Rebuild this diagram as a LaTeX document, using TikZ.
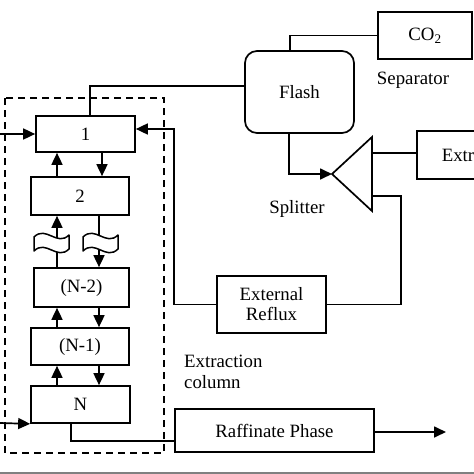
\documentclass[tikz,border=0pt]{standalone}
\usepackage{fontspec}
\setmainfont{Liberation Serif}
\usetikzlibrary{arrows.meta,calc}
\newcommand\wavyflag[2]{\filldraw[fill=white,line width=1.5pt,line join=round] (#1,#2) .. controls +(12,-12) and +(-12,12) .. ++(35,-2) -- ++(0,14) .. controls +(-12,12) and +(12,-12) .. ++(-35,2) -- cycle;}
\begin{document}
\begin{tikzpicture}[x=1pt,y=-1pt,
  box/.style={draw, line width=1.7pt, inner sep=0pt, font=\fontsize{18.8}{21}\selectfont},
  flow/.style={line width=1.7pt},
  arr/.style={flow, -{Triangle[length=12pt,width=11pt]}},
  lbl/.style={font=\fontsize{18.8}{21}\selectfont, inner sep=0pt}]
\useasboundingbox (0,0) rectangle (474,474);
\clip (0,0) rectangle (474,474);
% gray strip at bottom
\fill[gray] (0,471.5) rectangle (474,474);
% dashed column frame
\draw[line width=1.5pt, dash pattern=on 7pt off 5pt] (5,98) rectangle (164,453);
% column stages
\node[box, minimum width=99pt, minimum height=36pt] (b1) at (85.5,134) {1};
\node[box, minimum width=98pt, minimum height=38pt] (b2) at (80,196) {2};
\node[box, minimum width=95pt, minimum height=39pt] (bN2) at (81.5,287.5) {(N-2)};
\node[box, minimum width=98pt, minimum height=37pt] (bN1) at (80,346.5) {(N-1)};
\node[box, minimum width=99pt, minimum height=37pt] (bN) at (80.5,404.5) {N};
% other units
\node[box, minimum width=109pt, minimum height=82pt, rounded corners=12pt] (flash) at (299.5,92) {Flash};
\node[box, minimum width=94pt, minimum height=47pt] (co2) at (425,35.5) {CO\textsubscript{2}};
\node[box, anchor=west, minimum height=48pt, text width=80pt, inner xsep=25pt, align=left] (extr) at (416,155) {Extr};
\node[box, minimum width=109pt, minimum height=57pt, align=center] (ext) at (271.5,304.5) {External\\[-1pt]Reflux};
\node[box, minimum width=199pt, minimum height=43pt] (raff) at (274.5,430.5) {Raffinate Phase};
% labels
\node[lbl] (seplbl) at (413,80) {Separator};
\node[lbl] (spllbl) at (297,209) {Splitter};
\node[lbl, anchor=west, align=left] (collbl) at (184,372) {Extraction\\column};
% splitter
\coordinate (sp) at (332,174);
\coordinate (spa) at (372,137);
\coordinate (spb) at (372,211);
\coordinate (spo1) at (372,153);
\coordinate (spo2) at (372,196);
\draw[flow, line join=miter] (sp) -- (spa) -- (spb) -- cycle;
% free ends
\coordinate (in1) at (0,134);
\coordinate (inN) at (0,423);
\coordinate (out) at (446,432);
\coordinate (upx) at (57,0);
\coordinate (dnx) at (99,0);
\coordinate (dnx1) at (102,0);
% connectors
\draw[flow] (co2.west) -| ([xshift=-9.5pt]flash.north);
\draw[flow] ([yshift=6pt]flash.west) -| ([xshift=4.5pt]b1.north);
\draw[arr] ([xshift=-10.5pt]flash.south) |- (sp);
\draw[flow] (spo1) -- (spo1 -| extr.west);
\draw[flow] (spo2) -| ([xshift=74pt]ext.east) -- (ext.east);
\draw[arr] (ext.west) -| ([xshift=38pt,yshift=5pt]b1.east) -- ([yshift=5pt]b1.east);
\draw[arr] (in1) -- (b1.west);
\draw[arr] (inN) -- (bN.south west);
\draw[flow] ([xshift=-9.5pt]bN.south) |- ([yshift=-10.5pt]raff.west);
\draw[arr] (raff.east |- out) -- (out);
% inter-stage flows
\draw[arr] (b2.north -| upx) -- (b1.south -| upx);
\draw[arr] (b1.south -| dnx1) -- (b2.north -| dnx1);
\draw[arr] (bN2.north -| upx) -- (b2.south -| upx);
\draw[arr] (b2.south -| dnx) -- (bN2.north -| dnx);
\draw[arr] (bN1.north -| upx) -- (bN2.south -| upx);
\draw[arr] (bN2.south -| dnx) -- (bN1.north -| dnx);
\draw[arr] (bN.north -| upx) -- (bN1.south -| upx);
\draw[arr] (bN1.south -| dnx) -- (bN.north -| dnx);
% break symbols
\wavyflag{34}{237}
\wavyflag{83}{237}
\end{tikzpicture}
\end{document}
